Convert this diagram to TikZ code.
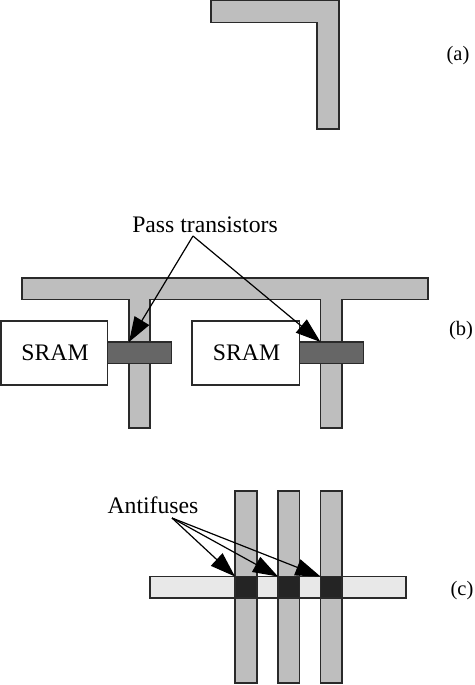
\documentclass[tikz,border=0pt]{standalone}
\usepackage{fontspec}
\setmainfont{Liberation Serif}
\usetikzlibrary{arrows.meta}
\definecolor{wire}{HTML}{BEBEBE}
\definecolor{lightwire}{HTML}{E8E8E8}
\definecolor{gatec}{HTML}{666666}
\definecolor{fusec}{HTML}{242424}
\definecolor{edgec}{HTML}{2A2A2A}
\newcommand{\boxat}[6]{\node[#1, minimum width=#4-#3, minimum height=#6-#5, anchor=north west] (#2) at (#3,#5) {};}
\tikzset{
  x=1pt,y=-1pt,
  every node/.style={inner sep=0pt,outer sep=0pt,font=\fontsize{23.7}{23.7}\selectfont},
  shape outline/.style={draw=edgec,line width=1.2pt,line join=miter},
  wirebox/.style={shape outline,fill=wire,rectangle},
  lightbox/.style={shape outline,fill=lightwire,rectangle},
  srambox/.style={shape outline,fill=white,rectangle},
  gatebox/.style={shape outline,fill=gatec,rectangle},
  fusebox/.style={shape outline,fill=fusec,rectangle},
  callout/.style={draw=black,line width=1.2pt,-{Triangle[length=25pt,width=17pt]}},
  tag/.style={font=\fontsize{20.5}{20.5}\selectfont,anchor=base}
}
\begin{document}
\begin{tikzpicture}
\useasboundingbox (0,0) rectangle (474,685);
% (a)
\path[wirebox] (211,0.5) -- (339,0.5) -- (339,129) -- (317,129) -- (317,22.5) -- (211,22.5) -- cycle;
\node[tag] (taga) at (458,60) {(a)};
% (b)
\path[wirebox] (22,278) -- (428,278) -- (428,299.5) -- (342,299.5) -- (342,428) -- (320.5,428) -- (320.5,299.5) -- (150,299.5) -- (150,428) -- (129,428) -- (129,299.5) -- (22,299.5) -- cycle;
\boxat{srambox}{sramA}{1}{107.5}{321}{385}
\boxat{srambox}{sramB}{192}{299.5}{321}{385}
\node[anchor=base] (textA) at (55,360) {SRAM};
\node[anchor=base] (textB) at (246.5,360) {SRAM};
\boxat{gatebox}{gateA}{107.5}{171.5}{342}{363.5}
\boxat{gatebox}{gateB}{299.5}{363.5}{342}{363.5}
\node[anchor=base] (pass) at (205,232) {Pass transistors};
\coordinate (passfrom) at (193,236);
\coordinate (gateAtip) at (129,342);
\coordinate (gateBtip) at (320.5,342);
\draw[callout] (passfrom) -- (gateAtip);
\draw[callout] (passfrom) -- (gateBtip);
\node[tag] (tagb) at (461,335) {(b)};
% (c)
\boxat{wirebox}{vA}{235}{257}{491}{683}
\boxat{wirebox}{vB}{278}{299.5}{491}{683}
\boxat{wirebox}{vC}{320.5}{342}{491}{683}
\boxat{lightbox}{hbar}{150}{406}{576.5}{598}
\boxat{fusebox}{fA}{235}{257}{576.5}{598}
\boxat{fusebox}{fB}{278}{299.5}{576.5}{598}
\boxat{fusebox}{fC}{320.5}{342}{576.5}{598}
\node[anchor=base] (anti) at (153,513) {Antifuses};
\coordinate (antifrom) at (172,518);
\draw[callout] (antifrom) -- (fA.north west);
\draw[callout] (antifrom) -- (fB.north west);
\draw[callout] (antifrom) -- (fC.north west);
\node[tag] (tagc) at (462,595) {(c)};
\end{tikzpicture}
\end{document}
